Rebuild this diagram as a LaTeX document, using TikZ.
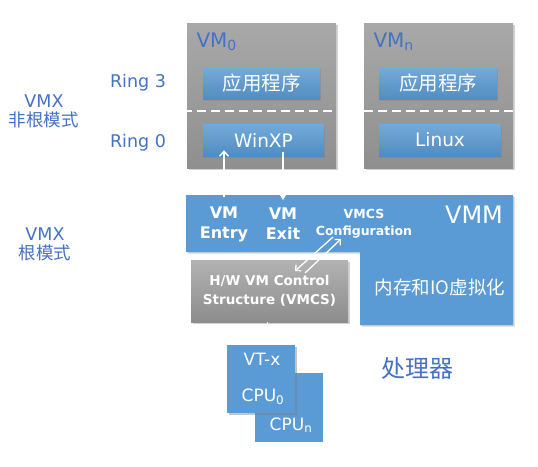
\documentclass[tikz,border=0pt]{standalone}
\usepackage{fontspec}
\setmainfont{DejaVu Sans}
\newfontfamily\cjk{Noto Sans CJK SC}
\usetikzlibrary{arrows.meta,shadows}
\definecolor{vblue}{HTML}{5B9BD5}
\definecolor{vtext}{HTML}{4472C4}
\tikzset{
  vmbox/.style={rectangle,minimum width=149pt,minimum height=145pt,
    top color=gray!68,bottom color=gray!88,draw=none,
    drop shadow={opacity=.35,shadow xshift=1.5pt,shadow yshift=-1.5pt}},
  osbox/.style={rectangle,top color=vblue!85!white,bottom color=vblue!90!black,
    text=white,minimum height=32pt,
    drop shadow={opacity=.4,shadow xshift=1pt,shadow yshift=-1.5pt}},
  cpubox/.style={rectangle,fill=vblue,text=white,minimum width=68pt,minimum height=68pt},
  lbl/.style={text=vtext,align=center},
  wline/.style={draw=white,line width=1.4pt}
}
\begin{document}
\begin{tikzpicture}[x=1pt,y=-1pt]
  \useasboundingbox[fill=white] (0,0) rectangle (538,466);
  % virtual machines
  \node[vmbox] (vm0) at (261.5,95.5) {};
  \node[vmbox] (vmn) at (438.5,95.5) {};
  \node[lbl,anchor=west,font=\fontsize{20}{22}\selectfont] (vm0name) at (193,42) {VM\textsubscript{0}};
  \node[lbl,anchor=west,font=\fontsize{20}{22}\selectfont] (vmnname) at (370,42) {VM\textsubscript{n}};
  \node[osbox,minimum width=117pt,font=\cjk\fontsize{19.5}{21}\selectfont] (app0) at (261.5,83.5) {应用程序};
  \node[osbox,minimum width=118pt,font=\cjk\fontsize{19.5}{21}\selectfont] (appn) at (438,83.5) {应用程序};
  \node[osbox,minimum width=121pt,font=\fontsize{18.5}{21}\selectfont] (winxp) at (263.5,140) {WinXP};
  \node[osbox,minimum width=122pt,font=\fontsize{18.5}{21}\selectfont] (linux) at (440,140) {Linux};
  \draw[white,line width=2.5pt,dash pattern=on 9pt off 5pt] (183,111) -- (337,111);
  \draw[white,line width=2.5pt,dash pattern=on 9pt off 5pt] (364,111) -- (513,111);
  % mode labels
  \node[lbl,font=\fontsize{17.5}{20}\selectfont] (ring3) at (138,83) {Ring 3};
  \node[lbl,font=\fontsize{17.5}{20}\selectfont] (ring0) at (138,143) {Ring 0};
  \node[lbl,font=\fontsize{17.5}{21}\selectfont] (nonroot) at (44,111) {VMX\\[-2pt]{\cjk 非根模式}};
  \node[lbl,font=\fontsize{17.5}{21}\selectfont] (root) at (45,244) {VMX\\[-2pt]{\cjk 根模式}};
  % VMM
  \path[fill=vblue,drop shadow={opacity=.35,shadow xshift=1.5pt,shadow yshift=-1.5pt}]
    (186,195) -- (513,195) -- (513,325) -- (360,325) -- (360,252) -- (186,252) -- cycle;
  \node[text=white,font=\fontsize{24}{26}\selectfont] (vmm) at (474,215) {VMM};
  \node[text=white,align=center,font=\bfseries\fontsize{16}{20}\selectfont] (entry) at (224,224) {VM\\Entry};
  \node[text=white,align=center,font=\bfseries\fontsize{16}{20}\selectfont] (exit) at (283,224) {VM\\Exit};
  \node[text=white,align=center,font=\bfseries\fontsize{12.5}{17}\selectfont] (config) at (364,224) {VMCS\\Configuration};
  \node[text=white,font=\cjk\fontsize{18.5}{20}\selectfont] (virt) at (440,287) {内存和IO虚拟化};
  \node[rectangle,minimum width=157pt,minimum height=62pt,top color=gray!60,bottom color=gray!90,
    text=white,align=center,font=\bfseries\fontsize{13.5}{18.5}\selectfont,
    drop shadow={opacity=.35,shadow xshift=1.5pt,shadow yshift=-1.5pt}] (vmcs) at (269.5,291)
    {H/W VM Control\\Structure (VMCS)};
  % processors
  \node[cpubox,minimum height=69pt] (cpun) at (289,407.5) {};
  \node[text=white,font=\fontsize{17}{19}\selectfont] (cpunname) at (291,425) {CPU\textsubscript{n}};
  \node[cpubox,drop shadow={opacity=.45,shadow xshift=1.5pt,shadow yshift=-2pt}] (cpu0) at (261,379) {};
  \node[text=white,font=\fontsize{17}{19}\selectfont] (vtx) at (262,359) {VT-x};
  \node[text=white,font=\fontsize{17}{19}\selectfont] (cpu0name) at (263,397) {CPU\textsubscript{0}};
  \node[text=vtext,font=\cjk\fontsize{24}{26}\selectfont] (proc) at (417,368) {处理器};
  % connectors
  \coordinate (entrytop) at (224,197);
  \coordinate (exittop) at (283,200);
  \draw[wline,-{Straight Barb[length=5pt,width=9pt]}] (entrytop) -- ([yshift=6pt]winxp.south -| entrytop);
  \draw[wline,-{Triangle[length=6pt,width=7pt]}] ([yshift=4pt]winxp.south -| exittop) -- (exittop);
  \coordinate (cfgtail) at (333,237);
  \coordinate (cfghead) at (341,239);
  \coordinate (vmcshead) at (295,271);
  \coordinate (vmcstail) at (305,273);
  \draw[wline,line width=1.3pt,-{Straight Barb[length=4pt,width=8pt]}] (cfgtail) -- (vmcshead);
  \draw[wline,line width=1.3pt,-{Straight Barb[length=4pt,width=8pt]}] (vmcstail) -- (cfghead);
  \draw[wline,line width=1pt,-{Triangle[length=4pt,width=6pt]}] ([xshift=6pt]vmcs.south -| cpu0.north) -- ([xshift=6pt]cpu0.north);
\end{tikzpicture}
\end{document}
